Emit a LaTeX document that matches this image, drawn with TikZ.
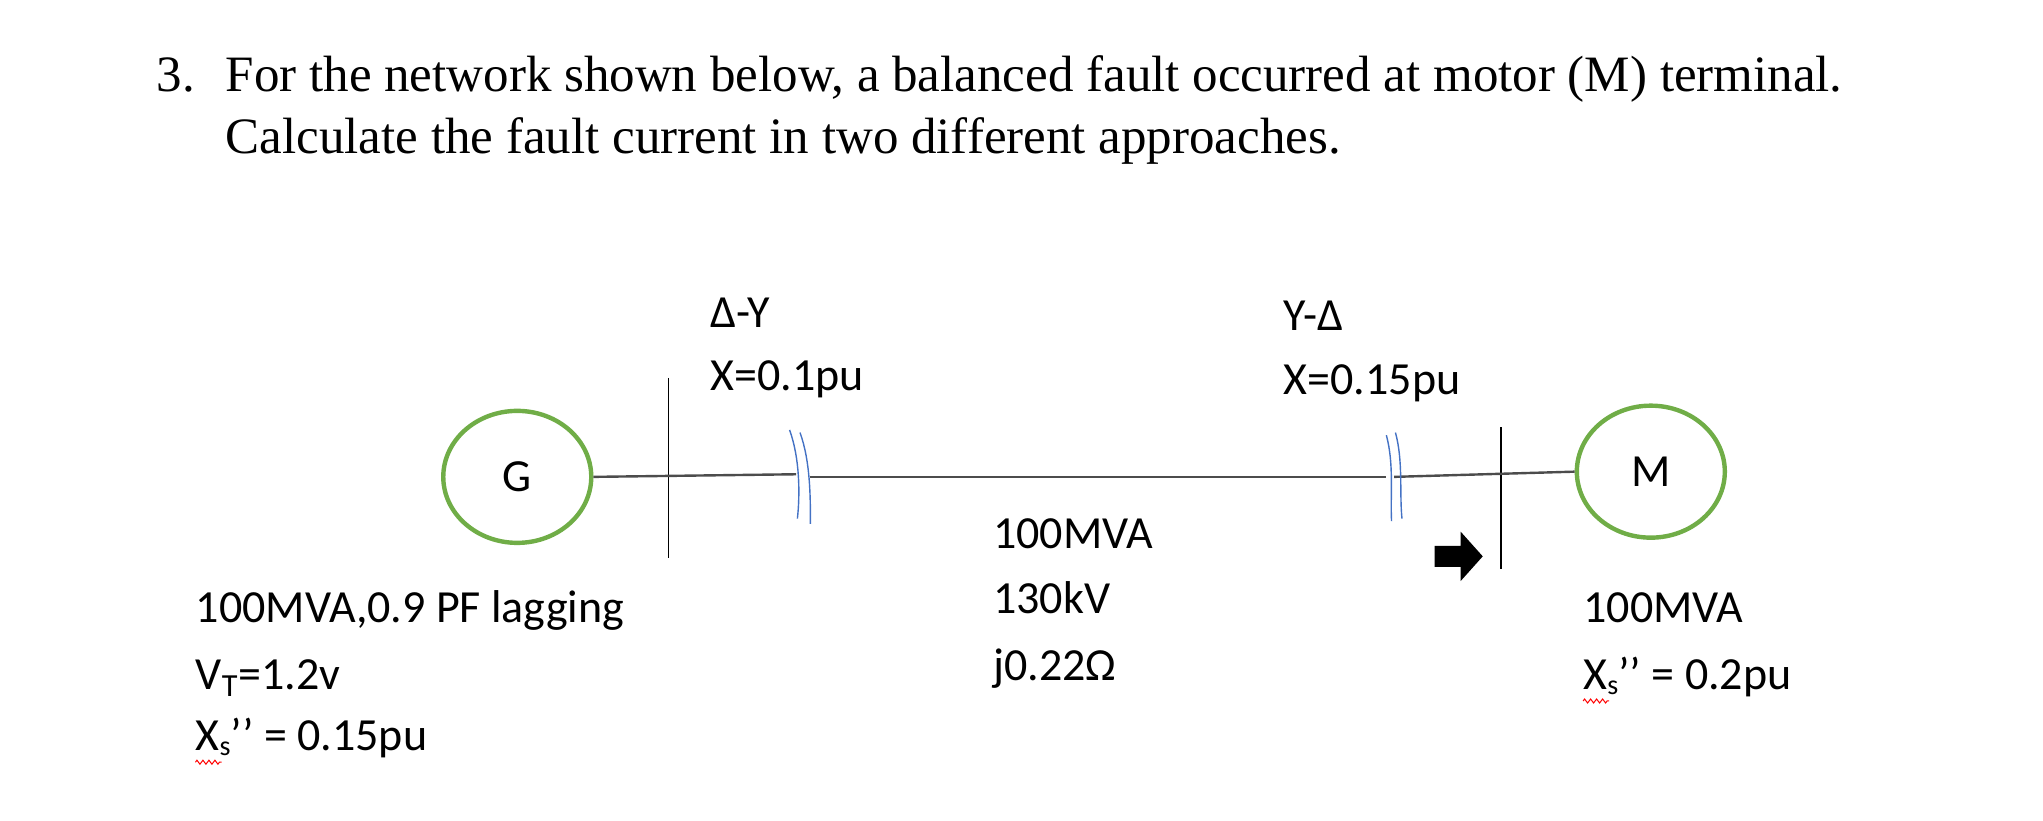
\documentclass[tikz,border=0pt]{standalone}
\usepackage{fontspec}
\setmainfont{Carlito}
\newfontfamily\titlefont{Liberation Serif}
\usetikzlibrary{decorations.pathmorphing,shapes.geometric}
\definecolor{ggreen}{RGB}{112,173,71}
\definecolor{tblue}{RGB}{68,114,196}
\begin{document}
\begin{tikzpicture}[x=0.6515pt,y=-0.6515pt,
  lbl/.style={anchor=base west,inner sep=0pt,font=\fontsize{23}{28}\selectfont},
  ttl/.style={anchor=base west,inner sep=0pt,font=\titlefont\fontsize{25.5}{30}\selectfont},
  mach/.style={draw=ggreen,line width=2.2pt,ellipse,minimum width=74pt,minimum height=66pt,inner sep=0pt,font=\fontsize{23}{28}\selectfont},
  bus/.style={line width=0.8pt},
  wire/.style={line width=1.2pt,draw=black!70},
  xf/.style={draw=tblue,line width=0.7pt}]
\useasboundingbox (0,0) rectangle (1568,629.4);
\node[ttl] (n3) at (120,70) {3.};
\node[ttl] (t1) at (173,70) {For the network shown below, a balanced fault occurred at motor (M) terminal.};
\node[ttl] (t2) at (173,118) {Calculate the fault current in two different approaches.};
% machines
\node[mach] (G) at (397,366) {G};
\node[mach] (M) at (1267,362) {M};
% buses
\coordinate (b1t) at (513,290); \coordinate (b1b) at (513,428);
\coordinate (b2t) at (1152,328); \coordinate (b2b) at (1152,437);
\draw[bus] (b1t) -- (b1b);
\draw[bus] (b2t) -- (b2b);
% wires
\coordinate (x1a) at (611,364); \coordinate (x1b) at (622,366);
\coordinate (x2a) at (1064,366); \coordinate (x2b) at (1070,366);
\draw[wire] (G.east) -- (x1a);
\draw[wire] (x1b) -- (x2a);
\draw[wire] (x2b) -- (M.west);
% transformer marks
\draw[xf] (606,330) .. controls (614,352) and (614,380) .. (612,398);
\draw[xf] (614,332) .. controls (622,354) and (622,382) .. (622,402);
\draw[xf] (1064,334) .. controls (1070,356) and (1067,380) .. (1068,400);
\draw[xf] (1071,332) .. controls (1077,354) and (1074,378) .. (1076,398);
% fault arrow
\fill (1101,419) -- (1121,419) -- (1121,408) -- (1138,427) -- (1121,446) -- (1121,435) -- (1101,435) -- cycle;
% labels
\node[lbl] (l1) at (545,251) {Δ-Y};
\node[lbl] (l2) at (545,300) {X=0.1pu};
\node[lbl] (l3) at (985,254) {Y-Δ};
\node[lbl] (l4) at (985,303) {X=0.15pu};
\node[lbl] (m1) at (762,421) {100MVA};
\node[lbl] (m2) at (762,471) {130kV};
\node[lbl] (m3) at (762,522) {j0.22Ω};
\node[lbl] (g1) at (150,478) {100MVA,0.9 PF lagging};
\node[lbl] (g2) at (150,529) {V\textsubscript{T}=1.2v};
\node[lbl] (g3) at (150,576) {X\raisebox{-0.25ex}{\fontsize{14}{14}\selectfont s}’’ = 0.15pu};
\node[lbl] (r1) at (1215,478) {100MVA};
\node[lbl] (r2) at (1215,529) {X\raisebox{-0.25ex}{\fontsize{14}{14}\selectfont s}’’ = 0.2pu};
\draw[red,line width=0.5pt,decorate,decoration={zigzag,amplitude=1,segment length=3}] (150,585) -- (170,585);
\draw[red,line width=0.5pt,decorate,decoration={zigzag,amplitude=1,segment length=3}] (1215,538) -- (1235,538);
\end{tikzpicture}
\end{document}
